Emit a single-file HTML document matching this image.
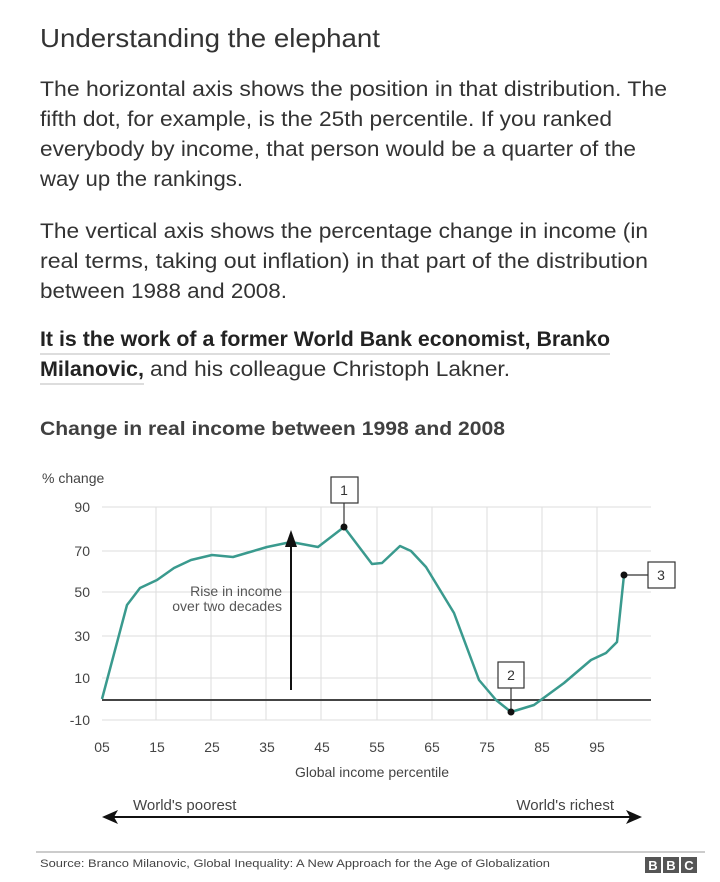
<!DOCTYPE html>
<html><head><meta charset="utf-8"><style>
html,body{margin:0;padding:0;background:#fff;}
svg{display:block;}
text{font-family:"Liberation Sans",sans-serif;}
</style></head><body>
<svg width="720" height="882" viewBox="0 0 720 882" xmlns="http://www.w3.org/2000/svg">
<g fill="#333" font-size="21">
<text x="40" y="47" font-size="26" textLength="340" lengthAdjust="spacingAndGlyphs">Understanding the elephant</text>
<text x="40" y="96" textLength="627" lengthAdjust="spacingAndGlyphs">The horizontal axis shows the position in that distribution. The</text>
<text x="40" y="126" textLength="572" lengthAdjust="spacingAndGlyphs">fifth dot, for example, is the 25th percentile. If you ranked</text>
<text x="40" y="156" textLength="596" lengthAdjust="spacingAndGlyphs">everybody by income, that person would be a quarter of the</text>
<text x="40" y="186" textLength="203" lengthAdjust="spacingAndGlyphs">way up the rankings.</text>
<text x="40" y="238" textLength="608" lengthAdjust="spacingAndGlyphs">The vertical axis shows the percentage change in income (in</text>
<text x="40" y="268" textLength="608" lengthAdjust="spacingAndGlyphs">real terms, taking out inflation) in that part of the distribution</text>
<text x="40" y="298" textLength="247" lengthAdjust="spacingAndGlyphs">between 1988 and 2008.</text>
<text x="40" y="346" font-weight="bold" fill="#222" textLength="570" lengthAdjust="spacingAndGlyphs">It is the work of a former World Bank economist, Branko</text>
<text x="40" y="376" font-weight="bold" fill="#222" textLength="104" lengthAdjust="spacingAndGlyphs">Milanovic,</text>
<text x="150" y="376" textLength="360" lengthAdjust="spacingAndGlyphs">and his colleague Christoph Lakner.</text>
</g>
<line x1="40" y1="354" x2="610" y2="354" stroke="#ddd" stroke-width="2"/>
<line x1="40" y1="384" x2="144" y2="384" stroke="#ddd" stroke-width="2"/>
<text x="40" y="435" font-size="19" font-weight="bold" fill="#404040" textLength="465" lengthAdjust="spacingAndGlyphs">Change in real income between 1998 and 2008</text>

<!-- grid -->
<g stroke="#ddd" stroke-width="1">
<line x1="102" y1="507" x2="651" y2="507"/>
<line x1="102" y1="551" x2="651" y2="551"/>
<line x1="102" y1="592" x2="651" y2="592"/>
<line x1="102" y1="636" x2="651" y2="636"/>
<line x1="102" y1="678" x2="651" y2="678"/>
<line x1="102" y1="720" x2="651" y2="720"/>
<line x1="156" y1="507" x2="156" y2="720"/>
<line x1="211" y1="507" x2="211" y2="720"/>
<line x1="266" y1="507" x2="266" y2="720"/>
<line x1="321" y1="507" x2="321" y2="720"/>
<line x1="377" y1="507" x2="377" y2="720"/>
<line x1="432" y1="507" x2="432" y2="720"/>
<line x1="487" y1="507" x2="487" y2="720"/>
<line x1="542" y1="507" x2="542" y2="720"/>
<line x1="597" y1="507" x2="597" y2="720"/>
</g>
<line x1="102" y1="700" x2="651" y2="700" stroke="#444" stroke-width="2"/>
<g font-size="14" fill="#444" text-anchor="end">
<text x="90" y="512">90</text><text x="90" y="556">70</text><text x="90" y="597">50</text>
<text x="90" y="641">30</text><text x="90" y="683">10</text><text x="90" y="725">-10</text>
</g>
<text x="42" y="483" font-size="14" fill="#444">% change</text>
<g font-size="14" fill="#444" text-anchor="middle">
<text x="102" y="752">05</text><text x="157" y="752">15</text><text x="212" y="752">25</text>
<text x="267" y="752">35</text><text x="322" y="752">45</text><text x="377" y="752">55</text>
<text x="432" y="752">65</text><text x="487" y="752">75</text><text x="542" y="752">85</text>
<text x="597" y="752">95</text>
<text x="372" y="777">Global income percentile</text>
</g>
<polyline fill="none" stroke="#3a9a8e" stroke-width="2.5" stroke-linejoin="round" points="102,699 127,605 140,588 157,580 174,568 191,560 212,555 233,557 250,552 267,547 291,542 318,547 344,527 372,564 382,563 400,546 411,551 426,567 454,613 479,680 496,700 511,712 534,705 564,683 591,660 606,653 617,642 624,575"/>
<!-- arrow -->
<line x1="291" y1="690" x2="291" y2="545" stroke="#111" stroke-width="2"/>
<polygon points="291,530 285,547 297,547" fill="#111"/>
<g font-size="14" fill="#555" text-anchor="end">
<text x="282" y="596">Rise in income</text><text x="282" y="611">over two decades</text>
</g>
<!-- annotations -->
<g stroke="#333" stroke-width="1.2" fill="#fff">
<line x1="344" y1="503" x2="344" y2="527"/>
<rect x="331" y="477" width="27" height="26"/>
<line x1="511" y1="688" x2="511" y2="712"/>
<rect x="498" y="662" width="26" height="26"/>
<line x1="624" y1="575" x2="648" y2="575"/>
<rect x="648" y="562" width="27" height="26"/>
</g>
<g fill="#111"><circle cx="344" cy="527" r="3.5"/><circle cx="511" cy="712" r="3.5"/><circle cx="624" cy="575" r="3.5"/></g>
<g font-size="14" fill="#333" text-anchor="middle">
<text x="344" y="495">1</text><text x="511" y="680">2</text><text x="661" y="580">3</text>
</g>
<!-- bottom arrow -->
<line x1="112" y1="817" x2="632" y2="817" stroke="#111" stroke-width="2"/>
<polygon points="102,817 118,810 114,817 118,824" fill="#111"/>
<polygon points="642,817 626,810 630,817 626,824" fill="#111"/>
<text x="133" y="810" font-size="15" fill="#444">World's poorest</text>
<text x="614" y="810" font-size="15" fill="#444" text-anchor="end">World's richest</text>
<line x1="36" y1="852" x2="705" y2="852" stroke="#ccc" stroke-width="2"/>
<text x="40" y="867" font-size="11" fill="#444" textLength="510" lengthAdjust="spacingAndGlyphs">Source: Branco Milanovic, Global Inequality: A New Approach for the Age of Globalization</text>
<g fill="#555"><rect x="645" y="857" width="16" height="16"/><rect x="663" y="857" width="16" height="16"/><rect x="681" y="857" width="16" height="16"/></g>
<g font-size="13" font-weight="bold" fill="#fff" text-anchor="middle"><text x="653" y="870">B</text><text x="671" y="870">B</text><text x="689" y="870">C</text></g>
</svg>
</body></html>
